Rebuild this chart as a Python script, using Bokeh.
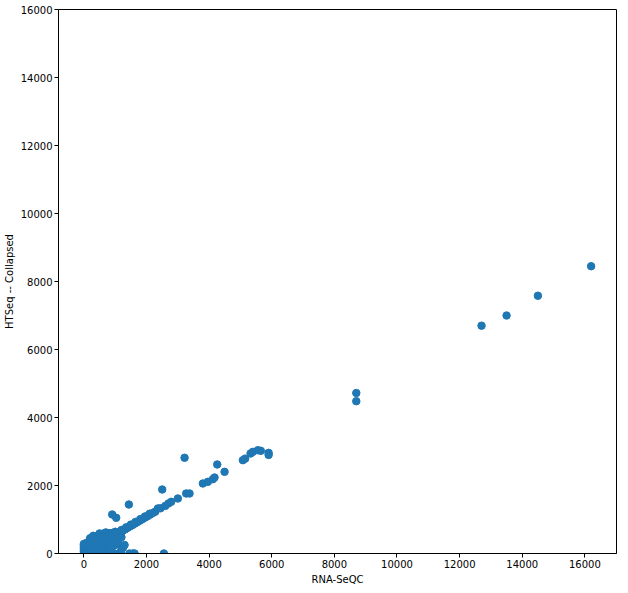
from bokeh.plotting import figure
from bokeh.models import Range1d, FixedTicker
from bokeh.embed import file_html
from bokeh.resources import INLINE

# RNA-SeQC counts (x) vs HTSeq collapsed counts (y)
rnaseqc = [
    # dense low cluster
    0, 0, 0, 0, 0, 0, 0,
    100, 100, 100, 100, 100,
    200, 200, 200, 200, 200, 200,
    300, 300, 300, 300, 300, 300,
    400, 400, 400, 400, 400, 400,
    500, 500, 500, 500, 500,
    600, 600, 600, 600, 600,
    700, 700, 700, 700, 700,
    800, 800, 800, 800, 800,
    900, 900, 900, 900, 900,
    1000, 1000, 1000, 1000,
    1100, 1100, 1100,
    1200, 1200, 1200,
    # low outliers
    1250, 1300, 870, 1200, 1460, 1565, 1620, 2555,
    # points above the trend
    905, 1033, 1437, 2502, 3216,
    # main trend
    1000, 1080, 1160, 1240, 1320, 1400, 1480, 1560, 1640, 1720, 1800,
    1880, 1960, 2040, 2120, 2200, 2280, 2363, 2450, 2600, 2700, 2789,
    1050, 1200, 1350, 1500, 1650, 1800, 1950, 2100,
    3002, 3268, 3375, 3800, 3960, 4120, 4172, 4259, 4493,
    5078, 5150, 5323, 5400, 5557, 5650, 5900, 5900,
    8700, 8700, 12700, 13500, 14500, 16200,
]
htseq_collapsed = [
    0, 50, 100, 150, 200, 250, 280,
    0, 80, 160, 240, 320,
    0, 100, 200, 300, 380, 450,
    0, 120, 240, 360, 480, 520,
    0, 100, 200, 300, 400, 500,
    0, 150, 300, 450, 590,
    50, 200, 350, 500, 580,
    100, 250, 400, 550, 620,
    0, 150, 300, 450, 600,
    50, 200, 350, 480, 600,
    250, 400, 530, 640,
    0, 300, 450,
    100, 480, 620,
    170, 250, 245, 0, 0, 0, 0, 0,
    1147, 1050, 1441, 1882, 2815,
    540, 585, 625, 670, 710, 755, 800, 840, 885, 930, 970,
    1015, 1060, 1100, 1145, 1190, 1230, 1324, 1330, 1400, 1470, 1520,
    610, 690, 770, 850, 930, 1010, 1090, 1170,
    1618, 1765, 1765, 2059, 2108, 2186, 2235, 2618, 2402,
    2745, 2790, 2941, 2990, 3039, 3020, 2960, 2900,
    4720, 4480, 6700, 7000, 7580, 8450,
]

x_ticks = [0, 2000, 4000, 6000, 8000, 10000, 12000, 14000, 16000]
y_ticks = [0, 2000, 4000, 6000, 8000, 10000, 12000, 14000, 16000]

p = figure(frame_width=558, frame_height=544, output_backend="svg", toolbar_location=None,
           x_range=Range1d(-810, 17010), y_range=Range1d(0, 16000),
           min_border_left=56, min_border_right=2, min_border_top=9, min_border_bottom=35)

p.scatter(rnaseqc, htseq_collapsed, size=7.5, fill_color="#1f77b4", line_color="#1f77b4")

p.xgrid.visible = False
p.ygrid.visible = False
p.outline_line_color = "black"
p.outline_line_width = 1
p.outline_line_alpha = 1
p.background_fill_color = "white"
p.border_fill_color = "white"

p.xaxis.ticker = FixedTicker(ticks=x_ticks)
p.yaxis.ticker = FixedTicker(ticks=y_ticks)
p.xaxis.axis_label = "RNA-SeQC"
p.yaxis.axis_label = "HTSeq -- Collapsed"
for ax in (p.xaxis, p.yaxis):
    ax.minor_tick_line_color = None
    ax.major_tick_in = 0
    ax.major_tick_out = 4
    ax.major_tick_line_color = "black"
    ax.axis_line_color = "black"
    ax.major_label_text_font = "DejaVu Sans"
    ax.major_label_text_font_size = "10px"
    ax.major_label_text_color = "black"
    ax.axis_label_text_font = "DejaVu Sans"
    ax.axis_label_text_font_size = "10px"
    ax.axis_label_text_font_style = "normal"
    ax.axis_label_text_color = "black"
    ax.major_label_standoff = 2
    ax.axis_label_standoff = 3

open("out.html", "w").write(file_html(p, INLINE))
